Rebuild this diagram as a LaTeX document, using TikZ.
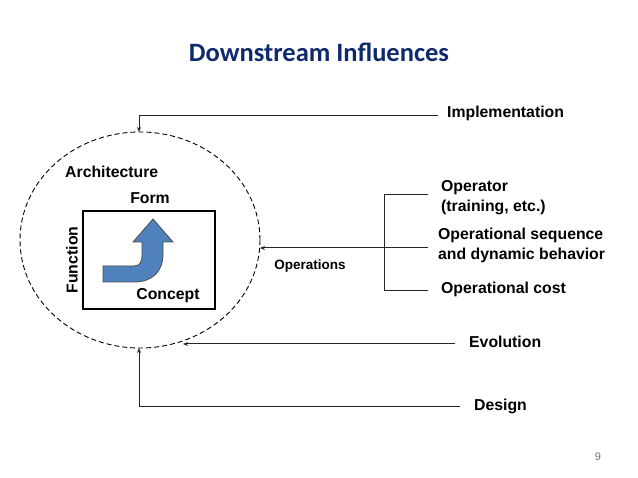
\documentclass[tikz,border=0pt]{standalone}
\usepackage{fontspec}
\setmainfont{Liberation Sans}
\newfontfamily\titlefont{Carlito}
\usetikzlibrary{arrows.meta}
\definecolor{titleblue}{HTML}{0F2A6B}
\definecolor{arrowblue}{HTML}{4F81BD}
\begin{document}
\begin{tikzpicture}[x=1pt,y=-1pt,
  lbl/.style={font=\fontsize{15.8}{20}\selectfont\bfseries, inner sep=0pt, align=left},
  conn/.style={draw=black!85, line width=1pt, -{Stealth[length=5pt,width=4pt]}}]
\useasboundingbox (0,0) rectangle (638,478);
\node[font=\titlefont\fontsize{26.5}{30}\selectfont\bfseries, text=titleblue] (title) at (319,52) {Downstream Influences};
\node[text=black!55, font=\fontsize{11}{12}\selectfont] (pg) at (598,457) {9};
% ellipse
\draw[dashed, line width=0.9pt, dash pattern=on 5pt off 3pt] (140,240) ellipse [x radius=120, y radius=108];
\coordinate (etop) at (139,132);
\coordinate (ebot) at (139,348);
\coordinate (eright) at (260,248);
\coordinate (ebr) at (183,344);
% box
\draw[line width=1.2pt] (83,211) rectangle (215,309);
\node[lbl, anchor=west] (arch) at (65,172) {Architecture};
\node[lbl] (form) at (150,198) {Form};
\node[lbl] (concept) at (168,296) {Concept};
\node[lbl, rotate=90] (func) at (72,260) {Function};
% blue arrow
\fill[arrowblue, draw=black!70, line width=0.8pt] (103,266) -- (134,266) .. controls (140,266) and (142,262) .. (142,254) -- (142,242) -- (133,242) -- (153,219) -- (173,242) -- (163,242) -- (163,254) .. controls (163,272) and (152,282) .. (134,282) -- (103,282) -- cycle;
% right texts
\node[lbl, anchor=west] (impl) at (447,113) {Implementation};
\node[lbl, anchor=west] (oper) at (441,198) {Operator\\(training, etc.)};
\node[lbl, anchor=west] (opseq) at (438,245) {Operational sequence\\and dynamic behavior};
\node[lbl, anchor=west] (opcost) at (441,289) {Operational cost};
\node[lbl, anchor=west] (evo) at (469,342) {Evolution};
\node[lbl, anchor=west] (design) at (474,406) {Design};
\node[font=\fontsize{13.5}{15}\selectfont\bfseries, inner sep=0pt] (ops) at (310,266) {Operations};
% connectors
\coordinate (implend) at (438,116);
\draw[conn] (implend) -- (139,116) -- (etop);
\coordinate (b1) at (428,195);
\coordinate (b2) at (428,248);
\coordinate (b3) at (428,291);
\draw[line width=1pt, black!85] (b1) -- (384,195) -- (384,291) -- (b3);
\draw[conn] (b2) -- (eright);
\coordinate (evoend) at (455,344);
\draw[conn] (evoend) -- (ebr);
\coordinate (desend) at (460,407);
\draw[conn] (desend) -- (139,407) -- (ebot);
\end{tikzpicture}
\end{document}
